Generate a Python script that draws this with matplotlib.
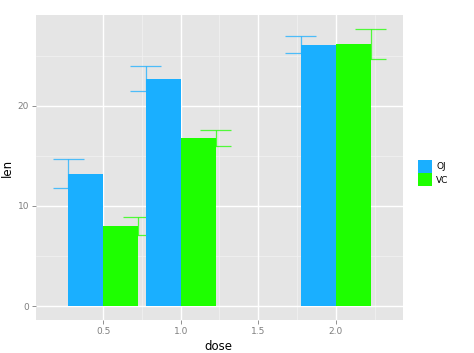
import matplotlib
matplotlib.use("Agg")
import matplotlib.pyplot as plt
import numpy as np
from matplotlib.patches import Patch

dose = np.array([0.5, 1.0, 2.0])
supp = ["OJ", "VC"]
oj_mean = np.array([13.23, 22.70, 26.06])
vc_mean = np.array([7.98, 16.77, 26.14])
oj_se = np.array([1.41, 1.24, 0.84])
vc_se = np.array([0.87, 0.80, 1.52])
x_ticks = [0.5, 1.0, 1.5, 2.0]
y_ticks = [0, 10, 20]

col_oj = "#1AAFFF"
col_vc = "#1EFF00"

W, H = 474, 353
fig = plt.figure(figsize=(W / 100, H / 100), dpi=100)
ax = fig.add_axes([36 / W, (H - 320) / H, (403 - 36) / W, (320 - 15) / H])
ax.set_facecolor("#E5E5E5")

bw = 0.225
# minor grid
for xv in [0.75, 1.25, 1.75, 2.25]:
    ax.axvline(xv, color="#F2F2F2", lw=0.5, zorder=0)
for yv in [5, 15, 25]:
    ax.axhline(yv, color="#F2F2F2", lw=0.5, zorder=0)
for xv in x_ticks:
    ax.axvline(xv, color="white", lw=1.0, zorder=0.5)
for yv in y_ticks:
    ax.axhline(yv, color="white", lw=1.0, zorder=0.5)

# error bars (dodged by 0.225, width 0.2)
ew = 0.2
for means, ses, off, col in [(oj_mean, oj_se, -0.225, col_oj), (vc_mean, vc_se, 0.225, col_vc)]:
    xs = dose + off
    kw = dict(color=col, lw=0.9, alpha=0.75, zorder=1)
    ax.vlines(xs, means - ses, means + ses, **kw)
    ax.hlines(means - ses, xs - ew / 2, xs + ew / 2, **kw)
    ax.hlines(means + ses, xs - ew / 2, xs + ew / 2, **kw)

ax.bar(dose - bw / 2, oj_mean, width=bw, color=col_oj, zorder=2, linewidth=0)
ax.bar(dose + bw / 2, vc_mean, width=bw, color=col_vc, zorder=2, linewidth=0)

ax.set_xlim(0.0675, 2.4325)
ax.set_ylim(-1.383, 29.043)
ax.set_xticks(x_ticks)
ax.set_xticklabels(["0.5", "1.0", "1.5", "2.0"])
ax.set_yticks(y_ticks)
ax.tick_params(axis="both", colors="#7F7F7F", labelsize=6.5, length=3, width=0.6, pad=2)
for s in ax.spines.values():
    s.set_visible(False)

ax.set_xlabel("dose", fontsize=8.5)
ax.xaxis.set_label_coords((218 - 36) / (403 - 36), -(340 - 320) / (320 - 15))
ax.set_ylabel("len", fontsize=8.5)
ax.yaxis.set_label_coords(-(36 - 14) / (403 - 36), 0.5)

handles = [Patch(facecolor=col_oj, edgecolor="none"), Patch(facecolor=col_vc, edgecolor="none")]
leg = fig.legend(handles, supp, loc="center left", bbox_to_anchor=(412 / W, 1 - 173 / H),
                 frameon=False, fontsize=6.5, handlelength=1.5, handleheight=1.9,
                 handletextpad=0.5, labelspacing=0.0, borderpad=0.2)

fig.savefig("out.png", dpi=100)
